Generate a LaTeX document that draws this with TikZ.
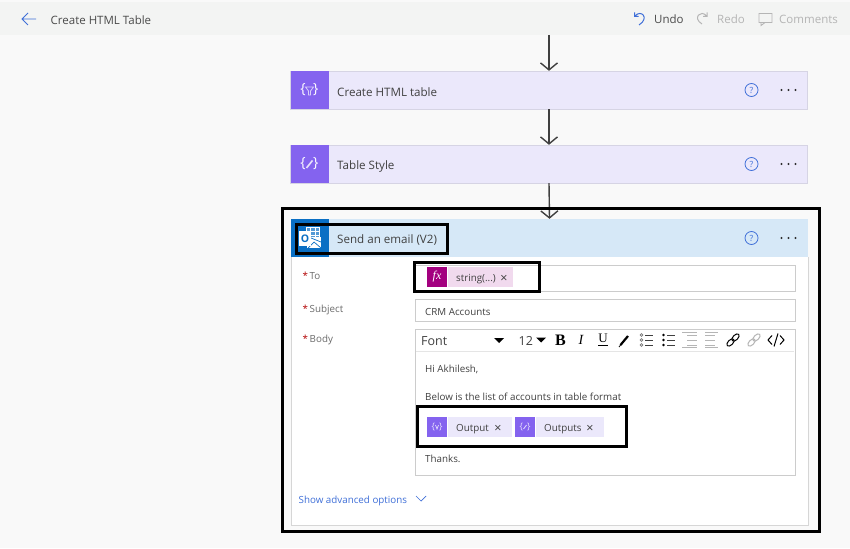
\documentclass[tikz,border=0pt]{standalone}
\usepackage{fontspec}
\setmainfont{Open Sans}
\newfontfamily\toolserif{Liberation Serif}
\usetikzlibrary{arrows.meta}
\definecolor{pagebg}{HTML}{F9F9F9}
\definecolor{barbg}{HTML}{F3F4F3}
\definecolor{varpurple}{HTML}{8463EF}
\definecolor{varlight}{HTML}{EBE8FB}
\definecolor{varedge}{HTML}{D6D4E4}
\definecolor{mailblue}{HTML}{0A6FC4}
\definecolor{maillight}{HTML}{D6E8F7}
\definecolor{linkblue}{HTML}{3F6FD8}
\definecolor{fieldedge}{HTML}{CCCCCC}
\definecolor{fxpurple}{HTML}{A3007F}
\definecolor{fxlight}{HTML}{F1DAEE}
\definecolor{labelgrey}{HTML}{6B6B6B}
\definecolor{fadegrey}{HTML}{B5B5B5}
\definecolor{inkdark}{HTML}{404040}
\tikzset{
  card/.style={draw=varedge, fill=varlight, minimum height=38pt, minimum width=517pt, inner sep=0pt},
  iconbox/.style={fill=varpurple, minimum size=38pt, inner sep=0pt},
  chipicon/.style={fill=varpurple, minimum size=20pt, inner sep=0pt},
  field/.style={draw=fieldedge, fill=white, line width=0.9pt, minimum width=380pt, inner sep=0pt},
  title/.style={anchor=west, inner sep=0pt, font=\fontsize{11.6}{14}\selectfont, text=inkdark},
  small/.style={anchor=west, inner sep=0pt, font=\fontsize{9.8}{12}\selectfont, text=inkdark},
  closemark/.style={inner sep=0pt, font=\fontsize{12.5}{12}\selectfont, text=inkdark},
  mark box/.style={draw=black, line width=3pt},
  flow/.style={draw=inkdark, line width=1.4pt, -{Straight Barb[length=7pt, width=17pt, line width=1.4pt]}},
  tool/.style={inner sep=0pt, text=black},
  toolline/.style={line width=1pt, draw=#1},
  toolline/.default=inkdark
}
\begin{document}
\begin{tikzpicture}[x=1pt, y=-1pt]
  \useasboundingbox (0,0) rectangle (850,548);
  \fill[pagebg] (0,0) rectangle (850,548);
  \fill[barbg] (0,2) rectangle (850,35);
  \coordinate (start) at (549,35);
  % top bar
  \draw[linkblue, line width=0.8pt] (36,19) -- (22,19) (28,13) -- (22,19) -- (28,25);
  \node[title, text=labelgrey!70!black, font=\fontsize{11.5}{14}\selectfont] (pagetitle) at (50.5,20) {Create HTML Table};
  \draw[linkblue, line width=1pt] (634.5,12.5) -- (634.5,16.5) -- (638.5,16.5) (635,16) .. controls (641,9) and (650,18) .. (639,25);
  \node[title, font=\fontsize{11.5}{14}\selectfont, text=labelgrey!70!black] (undo) at (654,19.5) {Undo};
  \draw[fadegrey, line width=1pt] (707,12.5) -- (707,16.5) -- (703,16.5) (706.5,16) .. controls (701,9) and (692,18) .. (702,24);
  \node[title, font=\fontsize{11.5}{14}\selectfont, text=fadegrey] (redo) at (717,19.5) {Redo};
  \draw[fadegrey, line width=0.9pt] (759,13.5) rectangle (772,22.5) (761,22.5) -- (761,25.5) -- (765,22.5);
  \node[title, font=\fontsize{11.5}{14}\selectfont, text=fadegrey] (comments) at (779,19.5) {Comments};
  % cards
  \node[card] (tablecard) at (549,90) {};
  \node[card] (stylecard) at (549,164) {};
  \fill[white] (291,257) rectangle (808,525);
  \draw[fieldedge!80!white] (291,257) -- (291,525) -- (808,525) -- (808,257);
  \node[card, draw=none, fill=maillight] (mailcard) at (549.5,238) {};
  \draw[flow] (start) -- (tablecard.north);
  \draw[flow] (tablecard.south) -- (stylecard.north);
  \draw[flow] (stylecard.south) -- (mailcard.north);
  \node[iconbox] (tableicon) at (309.5,90) {};
  \node[iconbox] (styleicon) at (309.5,164) {};
  \node[iconbox, fill=mailblue] (mailicon) at (309.5,238) {};
  \node[tool, text=white, font=\fontsize{14}{14}\selectfont] (tablebrace) at (tableicon) {\{\hspace{7.5pt}\}};
  \node[tool, text=white, font=\fontsize{14}{14}\selectfont] (stylebrace) at (styleicon) {\{\hspace{7.5pt}\}};
  \draw[white!70!varpurple, line width=0.8pt] (305.5,87) -- (313.5,87) -- (310.5,91) -- (310.5,95) -- (308.5,95) -- (308.5,91) -- cycle;
  \draw[white!80!varpurple, line width=1.6pt] (306.5,168) -- (312.5,160.5);
  \node[title] (tabletext) at (337,92) {Create HTML table};
  \node[title] (styletext) at (337,166) {Table Style};
  \node[title] (mailtext) at (337,240) {Send an email (V2)};
  % outlook icon
  \draw[white, fill=mailblue!70!white, line width=0.6pt] (306,227) rectangle (319,239);
  \draw[white, line width=0.5pt] (310.5,227) -- (310.5,239) (315,227) -- (315,239) (306,231) -- (319,231) (306,235) -- (319,235);
  \fill[white] (307,237) -- (321,237) -- (321,248) -- (307,248) -- cycle;
  \draw[mailblue, line width=0.7pt] (308,248) -- (314,242) -- (321,248) (311,238) -- (321,242);
  \fill[white] (299,231) rectangle (311,246);
  \node[tool, text=mailblue, font=\bfseries\fontsize{10.5}{10}\selectfont] (outlooko) at (305,238.5) {O};
  % help and dots
  \foreach \cy/\cname in {90/tablehelp, 164/stylehelp, 238/mailhelp} {
    \node[circle, draw=linkblue, line width=0.8pt, minimum size=13pt, inner sep=0pt, text=linkblue, font=\fontsize{8.5}{9}\selectfont] (\cname) at (751.5,\cy) {?};
    \foreach \dx in {781.5,788.5,795.5}
      \fill[inkdark!70!black] (\dx,\cy) circle (1.2);
  }
  % form labels
  \node[small, text=labelgrey] (tolabel) at (302.5,276) {\textcolor{red!70!black}{*}\,To};
  \node[small, text=labelgrey] (subjectlabel) at (302.5,309.5) {\textcolor{red!70!black}{*}\,Subject};
  \node[small, text=labelgrey] (bodylabel) at (302.5,339.5) {\textcolor{red!70!black}{*}\,Body};
  % fields
  \node[field, minimum height=26pt] (tofield) at (605,278) {};
  \node[field, minimum height=22pt] (subjectfield) at (605,310) {};
  \node[field, minimum height=146pt] (bodyfield) at (605,402) {};
  \draw[fieldedge!50!white] (416,351) -- (794,351);
  \node[chipicon, fill=fxpurple] (fxicon) at (437,277) {};
  \node[tool, text=white, font=\toolserif\itshape\fontsize{12}{10}\selectfont] (fxtext) at (fxicon) {fx};
  \node[small, fill=fxlight, minimum width=65pt, minimum height=20pt] (fxchip) at (447.5,277) {};
  \node[small] (fxname) at (456,279) {string(...)};
  \node[closemark] (fxclose) at (504,278.5) {×};
  \node[small] (subjecttext) at (425,311.5) {CRM Accounts};
  % toolbar
  \node[tool, anchor=west, text=inkdark, font=\fontsize{12.5}{14}\selectfont] (fontname) at (421,341) {Font};
  \fill[black] (494,338) -- (504,338) -- (499,343) -- cycle;
  \node[tool, anchor=west, text=inkdark, font=\fontsize{12.5}{14}\selectfont] (sizename) at (518.5,341) {12};
  \fill[black] (536,337.5) -- (546,337.5) -- (541,342.5) -- cycle;
  \node[tool, font=\toolserif\bfseries\fontsize{16}{14}\selectfont] (boldtool) at (560.5,340) {B};
  \node[tool, font=\toolserif\itshape\fontsize{14}{14}\selectfont] (italictool) at (581,340) {I};
  \node[tool, font=\toolserif\fontsize{13}{14}\selectfont] (undertool) at (603,338.5) {U};
  \draw[black, line width=0.8pt] (598,345.5) -- (608,345.5);
  \draw[black, line width=2.2pt] (620.5,345) -- (628,336);
  \draw[black, line width=0.8pt] (619,347) -- (621,344.5);
  \foreach \ly in {335,340,345} {
    \draw[toolline] (645,\ly) -- (653,\ly) (667,\ly) -- (675,\ly);
    \draw[inkdark!70, line width=0.6pt] (641.5,\ly) circle (1.4);
    \fill[black] (663.5,\ly) circle (1.3);
    \draw[toolline=fadegrey] (687,\ly) -- (697,\ly) (705,\ly) -- (715,\ly);
  }
  \draw[toolline=fadegrey] (682,332.5) -- (697,332.5) (682,347.5) -- (697,347.5) (705,332.5) -- (718,332.5) (705,347.5) -- (718,347.5);
  \foreach \lx/\lc in {733/black, 754/fadegrey} {
    \draw[\lc, line width=1pt, rotate around={45:(\lx-2.5,342.5)}] (\lx-2.5,342.5) ellipse (4.5 and 2.5);
    \draw[\lc, line width=1pt, rotate around={45:(\lx+2.5,337.5)}] (\lx+2.5,337.5) ellipse (4.5 and 2.5);
  }
  \draw[black, line width=1pt] (772,335.5) -- (768,340) -- (772,344.5) (780,335.5) -- (784,340) -- (780,344.5) (778,333.5) -- (774,346.5);
  % body text
  \node[small] (greeting) at (425,369) {Hi Akhilesh,};
  \node[small] (belowtext) at (425,397) {Below is the list of accounts in table format};
  \node[chipicon] (outputicon) at (437,427) {};
  \node[chipicon] (outputsicon) at (525,427) {};
  \node[tool, text=white!80!varpurple, font=\fontsize{9}{9}\selectfont] (outputbrace) at (outputicon) {\{\hspace{4pt}\}};
  \node[tool, text=white!80!varpurple, font=\fontsize{9}{9}\selectfont] (outputsbrace) at (outputsicon) {\{\hspace{4pt}\}};
  \draw[white!80!varpurple, line width=0.7pt] (435.5,425) -- (437,429) -- (438.5,425);
  \draw[white!80!varpurple, line width=0.8pt] (523.5,429) -- (526.5,425);
  \node[small, fill=varlight, minimum width=64pt, minimum height=20pt] (outputchip) at (447.5,427) {};
  \node[small, fill=varlight, minimum width=68pt, minimum height=20pt] (outputschip) at (535.5,427) {};
  \node[small] (outputtext) at (456,429) {Output};
  \node[small] (outputstext) at (544,429) {Outputs};
  \node[closemark] (outputclose) at (498,429) {×};
  \node[closemark] (outputsclose) at (590,429) {×};
  \node[small] (thankstext) at (425,459) {Thanks.};
  \node[small, text=linkblue] (advanced) at (298.5,500.5) {Show advanced options};
  \draw[linkblue, line width=0.7pt] (416,496) -- (421,501) -- (426,496);
  % black marks
  \draw[mark box] (282,208) rectangle (819,531);
  \draw[mark box] (296.5,224) rectangle (447,253);
  \draw[mark box] (414,262) rectangle (539,291);
  \draw[mark box] (417,406) rectangle (626.5,446);
\end{tikzpicture}
\end{document}
